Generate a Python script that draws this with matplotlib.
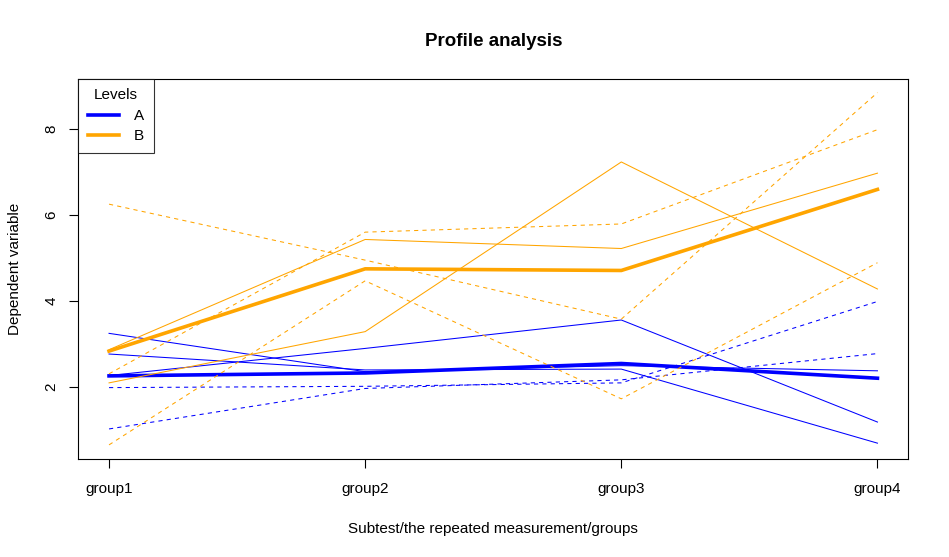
import numpy as np
import matplotlib
matplotlib.use("Agg")
import matplotlib.pyplot as plt
from matplotlib.lines import Line2D

plt.rcParams['font.family'] = ['Liberation Sans', 'DejaVu Sans']

groups = ["group1", "group2", "group3", "group4"]

# level A subjects (blue)
levelA = [
    [3.25, 2.36, 2.50, 2.38],
    [2.77, 2.40, 2.42, 0.70],
    [2.27, 2.90, 3.56, 1.19],
    [1.99, 2.02, 2.10, 3.99],
    [1.03, 1.97, 2.17, 2.78],
]
styleA = ["-", "-", "-", "--", "--"]

# level B subjects (orange)
levelB = [
    [6.25, 4.95, 3.58, 8.84],
    [0.66, 4.47, 1.73, 4.89],
    [2.31, 5.60, 5.79, 7.98],
    [2.10, 3.29, 7.23, 4.28],
    [2.87, 5.43, 5.22, 6.97],
]
styleB = ["--", "--", "--", "-", "-"]

levels = ["A", "B"]
colors = ["blue", "orange"]

fig = plt.figure(figsize=(9.49, 5.57), dpi=100)
ax = fig.add_axes([0.0825, 0.176, 0.8745, 0.683])

x = np.arange(1, len(groups) + 1)
thin = 0.75
for data, styles, col in [(levelA, styleA, colors[0]), (levelB, styleB, colors[1])]:
    for row, ls in zip(data, styles):
        if ls == "--":
            ax.plot(x, row, color=col, lw=thin, dashes=(4, 4))
        else:
            ax.plot(x, row, color=col, lw=thin)
    # bold line = group mean
    ax.plot(x, np.mean(np.array(data), axis=0), color=col, lw=2.6, solid_joinstyle='round')

allv = np.array(levelA + levelB)
lo, hi = allv.min(), allv.max()
pad = (hi - lo) * 0.04
ax.set_ylim(lo - pad, hi + pad)
ax.set_xlim(1 - 0.12, 4 + 0.12)

ax.set_xticks(x, labels=groups)
ax.set_yticks([2, 4, 6, 8])
ax.tick_params(axis='both', labelsize=11, length=6.5, width=0.8, direction='out')
ax.tick_params(axis='x', pad=10)
ax.tick_params(axis='y', pad=8)
for lab in ax.get_yticklabels():
    lab.set_rotation(90)
    lab.set_va('center')
for s in ax.spines.values():
    s.set_linewidth(0.8)

ax.set_xlabel("Subtest/the repeated measurement/groups", fontsize=11, labelpad=19)
ax.set_ylabel("Dependent variable", fontsize=11, labelpad=16)
fig.text(0.52, 0.926, "Profile analysis", fontsize=13.5, fontweight='bold', ha='center', va='center')

handles = [Line2D([0], [0], color=c, lw=2.6) for c in colors]
leg = ax.legend(handles, levels, title="Levels", loc='upper left', fontsize=11,
                title_fontsize=11, frameon=True, fancybox=False, borderaxespad=0,
                handlelength=2.0, handletextpad=1.0, borderpad=0.65, labelspacing=0.42)
leg.get_frame().set_edgecolor('black')
leg.get_frame().set_linewidth(0.8)

fig.savefig("out.png", dpi=100)
